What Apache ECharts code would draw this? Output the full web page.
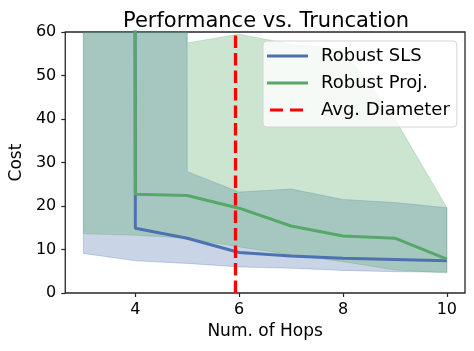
<!DOCTYPE html>
<html>
<head>
<meta charset="utf-8">
<script src="https://cdn.jsdelivr.net/npm/echarts@6/dist/echarts.min.js"></script>
<style>html,body{margin:0;padding:0;background:#fff;}#c{width:474px;height:351px;}</style>
</head>
<body>
<div id="c"></div>
<script>
// Data (1e4 = off-chart, clipped at the top of the plot)
var hops = [3, 4, 5, 6, 7, 8, 9, 10];
var slsMean  = [1e4, 14.9, 12.6, 9.3, 8.5, 8.0, 7.7, 7.4];
var projMean = [1e4, 22.7, 22.4, 19.5, 15.4, 13.1, 12.6, 7.8];
var slsLow   = [9.1, 7.4, 6.8, 6.0, 5.7, 5.2, 4.9, 4.8];
var slsHigh  = [1e4, 1e4, 27.9, 23.2, 23.9, 21.5, 20.8, 19.6];
var projLow  = [13.6, 13.3, 12.6, 10.6, 8.8, 7.2, 5.3, 4.6];
var projHigh = [1e4, 1e4, 57.5, 59.5, 57.2, 56.0, 40.0, 19.6];
var avgDiameter = 5.93;
var xTicks = [4, 6, 8, 10];
var seriesNames = ['Robust SLS', 'Robust Proj.', 'Avg. Diameter'];

var FONT = 'DejaVu Sans';
var BLUE = '#4c72b0', GREEN = '#55a868', RED = '#ff0000';

function pairs(xs, ys) { return xs.map(function (x, i) { return [x, ys[i]]; }); }

function bandRenderer(low, high, fill, edge) {
  return function (params, api) {
    if (params.dataIndex !== 0) return null;
    var pts = [], i;
    for (i = 0; i < hops.length; i++) pts.push(api.coord([hops[i], high[i]]));
    for (i = hops.length - 1; i >= 0; i--) pts.push(api.coord([hops[i], low[i]]));
    return {type: 'polygon', shape: {points: pts}, style: {fill: fill, stroke: edge, lineWidth: 0.8}};
  };
}

var lineIcon = 'path://M0,0H41V3H0Z';
var dashIcon = 'path://M0,0H0.01V3H0Z M3,0H16V3H3Z M23,0H36V3H23Z M40.99,0H41V3H40.99Z';

var chart = echarts.init(document.getElementById('c'), null, {renderer: 'canvas'});
chart.setOption({
  animation: false,
  backgroundColor: '#fff',
  title: {
    text: 'Performance vs. Truncation',
    left: 118, top: 6,
    textStyle: {fontFamily: FONT, fontSize: 21, fontWeight: 'normal', color: '#000'}
  },
  grid: {left: 62, right: 9, top: 32, bottom: 58, show: true, borderColor: '#262626', borderWidth: 1.3, backgroundColor: 'transparent'},
  legend: {
    data: [
      {name: seriesNames[0], icon: lineIcon},
      {name: seriesNames[1], icon: lineIcon},
      {name: seriesNames[2], icon: dashIcon}
    ],
    orient: 'vertical',
    left: 263, top: 41,
    itemWidth: 41, itemHeight: 3, itemGap: 9,
    padding: [6, 7, 8, 4],
    itemStyle: {borderWidth: 0},
    backgroundColor: 'rgba(255,255,255,0.8)',
    borderColor: '#d4d4d4', borderWidth: 1, borderRadius: 4,
    textStyle: {fontFamily: FONT, fontSize: 18, color: '#000', padding: [0, 0, 0, 8]},
    z: 20
  },
  xAxis: {
    type: 'value', min: 2.65, max: 10.35,
    name: 'Num. of Hops', nameLocation: 'middle', nameGap: 30,
    nameTextStyle: {fontFamily: FONT, fontSize: 17, color: '#000'},
    axisLine: {show: false},
    axisTick: {show: true, length: 4, lineStyle: {color: '#262626', width: 1.2}, customValues: xTicks},
    axisLabel: {fontFamily: FONT, fontSize: 16, color: '#000', margin: 9, customValues: xTicks},
    splitLine: {show: false}
  },
  yAxis: {
    type: 'value', min: 0, max: 60, interval: 10,
    name: 'Cost', nameLocation: 'middle', nameGap: 34,
    nameTextStyle: {fontFamily: FONT, fontSize: 17, color: '#000'},
    axisLine: {show: false},
    axisTick: {show: true, length: 4, lineStyle: {color: '#262626', width: 1.2}},
    axisLabel: {fontFamily: FONT, fontSize: 16, color: '#000', margin: 9},
    splitLine: {show: false}
  },
  series: [
    {name: 'slsBand', type: 'custom', clip: true, silent: true, z: 1,
     data: pairs(hops, slsLow),
     renderItem: bandRenderer(slsLow, slsHigh, 'rgba(76,114,176,0.3)', 'rgba(76,114,176,0.35)')},
    {name: 'projBand', type: 'custom', clip: true, silent: true, z: 2,
     data: pairs(hops, projLow),
     renderItem: bandRenderer(projLow, projHigh, 'rgba(85,168,104,0.3)', 'rgba(85,168,104,0.35)')},
    {name: seriesNames[0], type: 'line', data: pairs(hops, slsMean), symbol: 'none',
     lineStyle: {color: BLUE, width: 3}, itemStyle: {color: BLUE}, z: 3},
    {name: seriesNames[1], type: 'line', data: pairs(hops, projMean), symbol: 'none',
     lineStyle: {color: GREEN, width: 3}, itemStyle: {color: GREEN}, z: 4},
    {name: seriesNames[2], type: 'line', data: [], symbol: 'none',
     lineStyle: {color: RED, width: 3.3, type: [12.5, 5]}, itemStyle: {color: RED}, z: 5,
     markLine: {symbol: 'none', silent: true, label: {show: false},
       lineStyle: {color: RED, width: 3.3, type: [12.5, 5]},
       data: [{xAxis: avgDiameter}]}}
  ]
});
</script>
</body>
</html>
